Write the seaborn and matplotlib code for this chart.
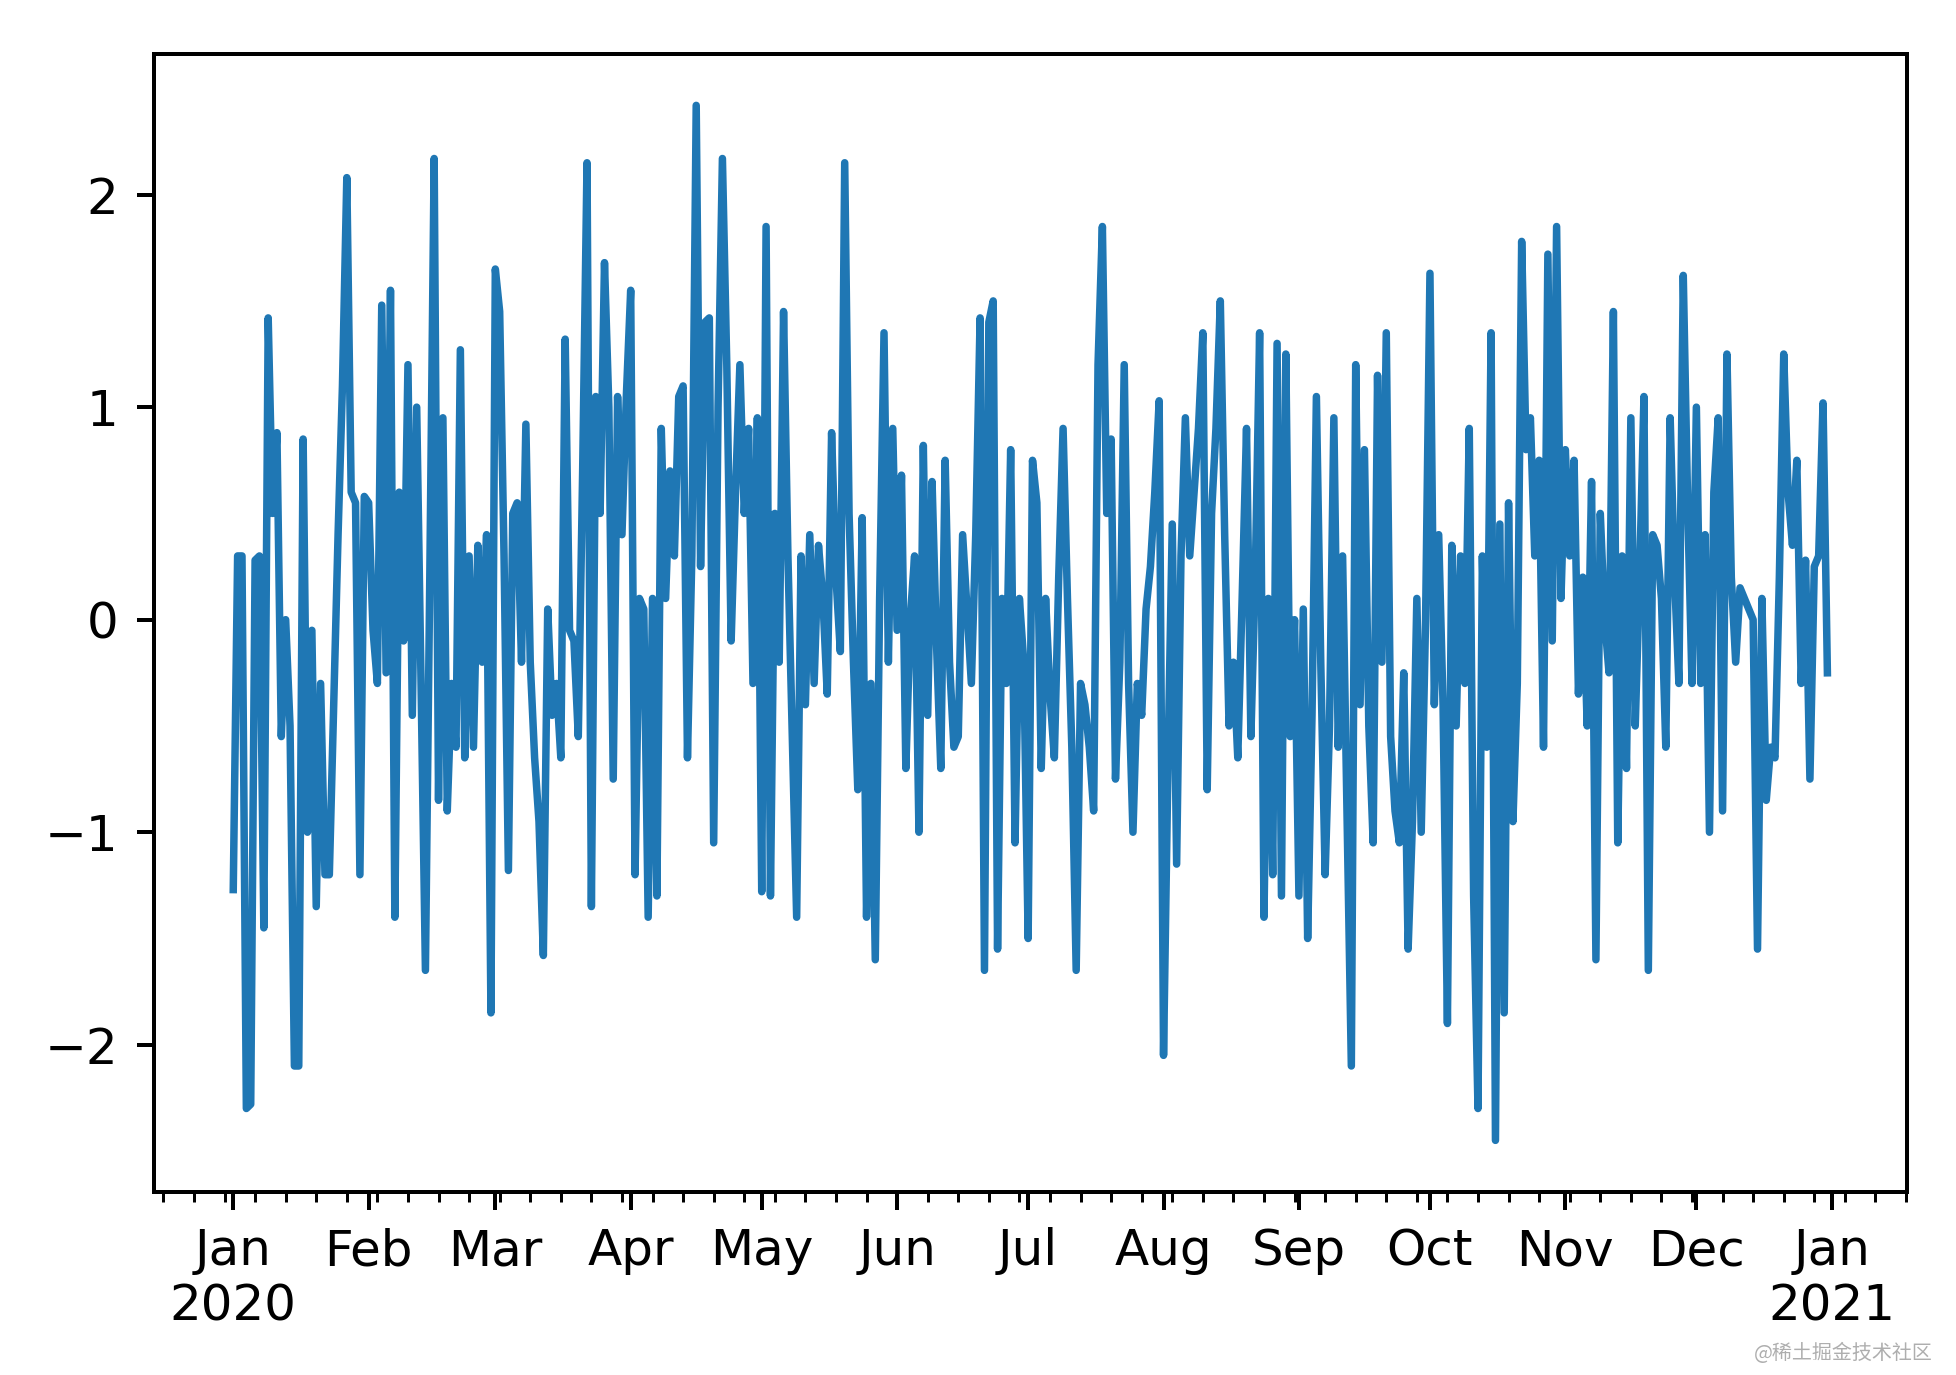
import numpy as np
import pandas as pd
import matplotlib
matplotlib.use("Agg")
import matplotlib.pyplot as plt
import matplotlib.dates as mdates
import seaborn as sns

# ---- data (daily values, 2020) ----
jan = [-1.27, 0.3, 0.3, -2.3, -2.28, 0.28, 0.3, -1.45, 1.42, 0.5,
       0.88, -0.55, 0.0, -0.5, -2.1, -2.1, 0.85, -1.0, -0.05, -1.35,
       -0.3, -1.2, -1.2, -0.4, 0.4, 1.1, 2.08, 0.6, 0.55, -1.2, 0.58]
feb = [0.55, -0.05, -0.3, 1.48, -0.25, 1.55, -1.4, 0.6, -0.1, 1.2,
       -0.45, 1.0, -0.3, -1.65, 0.2, 2.17, -0.85, 0.95, -0.9, -0.3,
       -0.6, 1.27, -0.65, 0.3, -0.6, 0.35, -0.2, 0.4, -1.85]
mar = [1.65, 1.45, 0.3, -1.18, 0.5, 0.55, -0.2, 0.92, -0.2, -0.65,
       -0.95, -1.58, 0.05, -0.45, -0.3, -0.65, 1.32, -0.05, -0.1, -0.55,
       0.7, 2.15, -1.35, 1.05, 0.5, 1.68, 1.0, -0.75, 1.05, 0.4, 1.05]
apr = [1.55, -1.2, 0.1, 0.05, -1.4, 0.1, -1.3, 0.9, 0.1, 0.7,
       0.3, 1.05, 1.1, -0.65, 0.3, 2.42, 0.25, 1.4, 1.42, -1.05,
       1.0, 2.17, 1.2, -0.1, 0.6, 1.2, 0.5, 0.9, -0.3, 0.95]
may = [-1.28, 1.85, -1.3, 0.5, -0.2, 1.45, 0.3, -0.55, -1.4, 0.3,
       -0.4, 0.4, -0.3, 0.35, 0.1, -0.35, 0.88, 0.2, -0.15, 2.15,
       0.5, -0.2, -0.8, 0.48, -1.4, -0.3, -1.6, 0.1, 1.35, -0.2, 0.9]
jun = [-0.05, 0.68, -0.7, 0.0, 0.3, -1.0, 0.82, -0.45, 0.65, -0.1,
       -0.7, 0.75, -0.2, -0.6, -0.55, 0.4, 0.05, -0.3, 0.4, 1.42,
       -1.65, 1.4, 1.5, -1.55, 0.1, -0.3, 0.8, -1.05, 0.1, -0.2]
jul = [-1.5, 0.75, 0.55, -0.7, 0.1, -0.35, -0.65, 0.2, 0.9, 0.1,
       -0.6, -1.65, -0.3, -0.4, -0.6, -0.9, 1.2, 1.85, 0.5, 0.85,
       -0.75, -0.2, 1.2, -0.3, -1.0, -0.3, -0.45, 0.05, 0.25, 0.6, 1.03]
aug = [-2.05, -0.7, 0.45, -1.15, 0.3, 0.95, 0.3, 0.6, 0.9, 1.35,
       -0.8, 0.5, 0.9, 1.5, 0.4, -0.5, -0.2, -0.65, 0.1, 0.9,
       -0.55, 0.2, 1.35, -1.4, 0.1, -1.2, 1.3, -1.3, 1.25, -0.55, 0.0]
sep = [-1.3, 0.05, -1.5, -0.45, 1.05, -0.2, -1.2, -0.5, 0.95, -0.6,
       0.3, -0.9, -2.1, 1.2, -0.4, 0.8, -0.5, -1.05, 1.15, -0.2,
       1.35, -0.55, -0.9, -1.05, -0.25, -1.55, -0.95, 0.1, -1.0, 0.0]
oct_ = [1.63, -0.4, 0.4, -0.4, -1.9, 0.35, -0.5, 0.3, -0.3, 0.9,
        -1.3, -2.3, 0.3, -0.6, 1.35, -2.45, 0.45, -1.85, 0.55, -0.95,
        -0.3, 1.78, 0.8, 0.95, 0.3, 0.75, -0.6, 1.72, -0.1, 1.85, 0.1]
nov = [0.8, 0.3, 0.75, -0.35, 0.2, -0.5, 0.65, -1.6, 0.5, 0.0,
       -0.25, 1.45, -1.05, 0.3, -0.7, 0.95, -0.5, 0.2, 1.05, -1.65,
       0.4, 0.35, 0.1, -0.6, 0.95, 0.2, -0.3, 1.62, 0.55, -0.3]
dec = [1.0, -0.3, 0.4, -1.0, 0.6, 0.95, -0.9, 1.25, 0.2, -0.2,
       0.15, 0.1, 0.05, 0.0, -1.55, 0.1, -0.85, -0.6, -0.65, 0.2,
       1.25, 0.6, 0.35, 0.75, -0.3, 0.28, -0.75, 0.25, 0.3, 1.02, -0.25]

values = jan + feb + mar + apr + may + jun + jul + aug + sep + oct_ + nov + dec
dates = pd.date_range("2020-01-01", periods=len(values), freq="D")
month_labels = ["Jan", "Feb", "Mar", "Apr", "May", "Jun",
                "Jul", "Aug", "Sep", "Oct", "Nov", "Dec"]

df = pd.DataFrame({"date": dates, "value": values})

# ---- figure ----
fig = plt.figure(figsize=(1956 / 360, 1375 / 360), dpi=360)
ax = fig.add_axes([0.0785, 0.133, 0.8965, 0.828])

sns.lineplot(data=df, x="date", y="value", ax=ax, color="#1f77b4",
             linewidth=1.5, estimator=None)

ax.set_xlabel("")
ax.set_ylabel("")
ax.margins(x=0.05, y=0.05)

ax.xaxis.set_major_locator(mdates.MonthLocator())
ax.xaxis.set_minor_locator(mdates.WeekdayLocator(byweekday=mdates.MO))


def fmt(x, pos=None):
    d = mdates.num2date(x)
    lab = month_labels[d.month - 1]
    if d.month == 1:
        lab += "\n" + str(d.year)
    return lab


ax.xaxis.set_major_formatter(plt.FuncFormatter(fmt))
ax.set_yticks([-2, -1, 0, 1, 2])

fig.text(0.988, 0.008, "@稀土掘金技术社区", ha="right", va="bottom",
         fontsize=4, color="#9a9a9a", alpha=0.8,
         family=["Noto Sans CJK SC", "DejaVu Sans"])

fig.savefig("out.png", dpi=360)
